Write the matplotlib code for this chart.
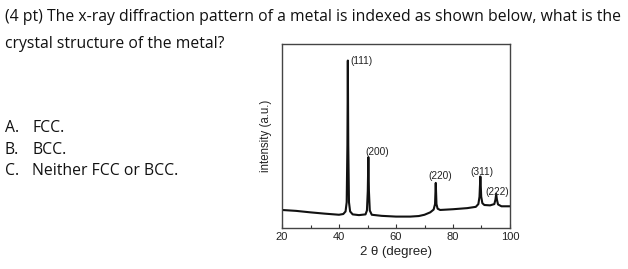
import matplotlib.pyplot as plt
from matplotlib.ticker import MultipleLocator

# XRD pattern (2theta in degrees, intensity in % of frame height)
two_theta = [20, 25, 30, 35, 40, 41.5, 42.3, 42.7, 42.95, 43.1, 43.25, 43.5, 43.9, 44.8,
             47, 49.3, 49.8, 50.1, 50.3, 50.5, 50.8, 51.5, 55, 60, 65, 68, 70, 72,
             73.2, 73.7, 73.95, 74.2, 74.6, 75.5, 80, 85, 88, 88.9, 89.3, 89.6, 89.9,
             90.3, 91, 93, 94.5, 94.9, 95.15, 95.4, 95.8, 97, 100]
intensity = [9.8, 9.3, 8.5, 7.8, 7.2, 7.6, 9.0, 14, 45, 91, 45, 14, 9.0, 7.4,
             7.0, 7.4, 9.5, 20, 38.5, 20, 9.5, 7.2, 6.6, 6.2, 6.2, 6.5, 7.2, 8.5,
             10, 13, 24.5, 13, 10.5, 9.8, 10.2, 10.8, 11.5, 13, 17, 28, 17,
             13.5, 12.5, 12.3, 13, 15.5, 18.5, 15.5, 12.8, 11.8, 11.8]

peak_labels = ["(111)", "(200)", "(220)", "(311)", "(222)"]
label_x = [43.9, 49.1, 71.2, 86.0, 91.2]
label_y = [90.9, 41.5, 28.5, 30.6, 19.7]

question = ["(4 pt) The x-ray diffraction pattern of a metal is indexed as shown below, what is the",
            "crystal structure of the metal?"]
choices = [("A.", "FCC."), ("B.", "BCC."), ("C.", "Neither FCC or BCC.")]

fig = plt.figure(figsize=(6.28, 2.69), dpi=100)

# question text
qfont = dict(family="Open Sans", fontsize=11.3, color="#111111")
fig.text(5 / 628, 1 - 17 / 269, question[0], va="center", ha="left", **qfont)
fig.text(5 / 628, 1 - 44 / 269, question[1], va="center", ha="left", **qfont)
for i, (letter, txt) in enumerate(choices):
    yy = 1 - (128 + 21.5 * i) / 269
    fig.text(5 / 628, yy, letter, va="center", ha="left", **qfont)
    fig.text(32 / 628, yy, txt, va="center", ha="left", **qfont)

# XRD plot
ax = fig.add_axes([282 / 628, 1 - 228 / 269, 228 / 628, 184 / 269])
ax.plot(two_theta, intensity, color="#111111", lw=1.5)
ax.set_xlim(20, 100)
ax.set_ylim(0, 100)
ax.xaxis.set_major_locator(MultipleLocator(20))
ax.xaxis.set_minor_locator(MultipleLocator(10))
ax.tick_params(axis="x", which="both", direction="in", labelsize=8, pad=3,
               colors="#333333", labelcolor="#222222")
ax.tick_params(axis="x", which="major", length=3, width=0.8)
ax.tick_params(axis="x", which="minor", length=2, width=0.8)
ax.set_yticks([])
for sp in ax.spines.values():
    sp.set_color("#444444")
    sp.set_linewidth(1.0)

for lab, lx, ly in zip(peak_labels, label_x, label_y):
    ax.text(lx, ly, lab, fontsize=7.3, ha="left", va="center", color="#222222",
            family="Liberation Sans")

for t in ax.get_xticklabels():
    t.set_family("Liberation Sans")
ax.set_xlabel("2 θ (degree)", fontsize=9.5, family="Liberation Sans", color="#222222", labelpad=3)
ax.set_ylabel("intensity (a.u.)", fontsize=8.3, family="Liberation Sans", color="#222222", labelpad=7)

fig.savefig("out.png", dpi=100)
